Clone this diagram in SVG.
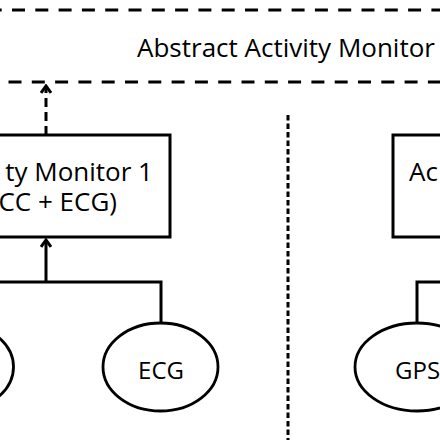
<svg xmlns="http://www.w3.org/2000/svg" width="440" height="440" viewBox="0 0 440 440">
<defs>
<style>
.box{fill:#fff;stroke:#000;stroke-width:3}
.ell{fill:#fff;stroke:#000;stroke-width:2.8}
.ln{fill:none;stroke:#000;stroke-width:3}
.dash{fill:none;stroke:#000;stroke-width:3;stroke-dasharray:13 10.3}
.vdash{fill:none;stroke:#000;stroke-width:3;stroke-dasharray:5.5 3}
.t{font-family:"Open Sans","Noto Sans",sans-serif;font-size:26px;fill:#000}
.ts{font-family:"Open Sans","Noto Sans",sans-serif;font-size:24px;fill:#000}
</style>
<marker id="arr" viewBox="0 0 12 12" refX="10" refY="6" markerWidth="12" markerHeight="12" markerUnits="userSpaceOnUse" orient="auto">
<path d="M3,1 L10,6 L3,11" fill="none" stroke="#000" stroke-width="3"/>
</marker>
</defs>
<rect width="440" height="440" fill="#fff"/>
<g id="abstract-layer">
<line class="dash" x1="-11.3" y1="10" x2="450" y2="10"/>
<line class="dash" x1="-14.8" y1="82" x2="450" y2="82"/>
<text class="t" x="137" y="57">Abstract Activity Monitor</text>
</g>
<g id="divider">
<line class="vdash" x1="288" y1="115" x2="288" y2="440"/>
</g>
<g id="connectors">
<line class="ln" x1="46" y1="135" x2="46" y2="86" stroke-dasharray="9 5" marker-end="url(#arr)"/>
<line class="ln" x1="46" y1="282" x2="46" y2="240" marker-end="url(#arr)"/>
<polyline class="ln" points="-44,323 -44,282 161,282 161,323"/>
<polyline class="ln" points="417,323 417,282 450,282"/>
</g>
<g id="monitor1">
<rect class="box" x="-77" y="135" width="247" height="102"/>
<text class="t" text-anchor="end"><tspan x="153" y="181">ty Monitor 1</tspan><tspan x="117" y="211">CC + ECG)</tspan></text>
</g>
<g id="monitor2">
<rect class="box" x="393" y="135" width="100" height="102"/>
<text class="t" x="409" y="181">Ac</text>
</g>
<g id="sensor-left">
<ellipse class="ell" cx="-44" cy="367" rx="57.5" ry="44"/>
</g>
<g id="sensor-ecg">
<ellipse class="ell" cx="160.5" cy="367" rx="57.5" ry="44"/>
<text class="ts" x="161" y="379" text-anchor="middle">ECG</text>
</g>
<g id="sensor-gps">
<ellipse class="ell" cx="417" cy="367" rx="62" ry="44"/>
<text class="ts" x="395" y="379">GPS</text>
</g>
</svg>
